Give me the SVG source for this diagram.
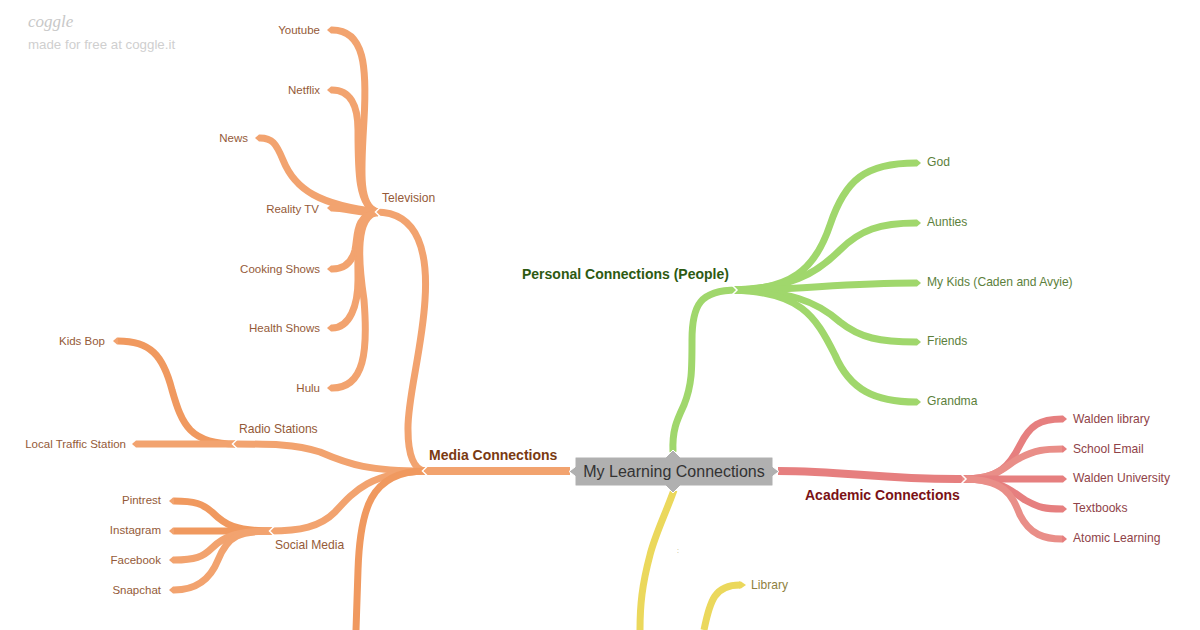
<svg xmlns="http://www.w3.org/2000/svg" width="1200" height="630" viewBox="0 0 1200 630">
<style>
text{font-family:"Liberation Sans",Arial,sans-serif}
.c{fill:none;stroke-width:7;stroke-linecap:butt;stroke-linejoin:round}
.m{stroke-width:8}
.o{stroke:#f2a36f}.o2{stroke:#f0995f}
.g{stroke:#a0d76c}.r{stroke:#e67f7f}.r2{stroke:#e98e88}.y{stroke:#ebd85c}
.l{font-size:11.5px}
.k{font-size:12.1px}
.b{font-size:14px;font-weight:bold}
.lo{fill:#945a38}.lg{fill:#5c7f3c}.lr{fill:#8f4348}.ly{fill:#8f7f40}
.w{fill:none;stroke:#fff;stroke-width:1.5}
.e{text-anchor:end}
</style>
<defs>
<marker id="to" markerUnits="userSpaceOnUse" markerWidth="12" markerHeight="10" refX="1" refY="5" orient="auto"><path d="M1 1.500L2 1.500L6 5L2 8.500L1 8.500Z" fill="#f2a36f"/></marker>
<marker id="tg" markerUnits="userSpaceOnUse" markerWidth="12" markerHeight="10" refX="1" refY="5" orient="auto"><path d="M1 1.500L2 1.500L6 5L2 8.500L1 8.500Z" fill="#a0d76c"/></marker>
<marker id="tr" markerUnits="userSpaceOnUse" markerWidth="12" markerHeight="10" refX="1" refY="5" orient="auto"><path d="M1 1.500L2 1.500L6 5L2 8.500L1 8.500Z" fill="#e67f7f"/></marker>
<marker id="ty" markerUnits="userSpaceOnUse" markerWidth="12" markerHeight="10" refX="1" refY="5" orient="auto"><path d="M1 1.500L2 1.500L6 5L2 8.500L1 8.500Z" fill="#ebd85c"/></marker>
</defs>
<g id="connectors">
<g marker-end="url(#to)">
<path class="c o" d="M378 212C358 208 361 170 364 120C367 68 365 30 332 30"/>
<path class="c o" d="M378 212C358 208 358 170 358 130C358 105 350 90 332 90"/>
<path class="c o" d="M378 212C320 205 295 190 283 160C276 143 272 138 260 138"/>
<path class="c o" d="M378 213C360 213 345 208 332 208"/>
<path class="c o" d="M378 212C355 215 358 235 355 250C352 262 345 269 332 269"/>
<path class="c o" d="M378 212C355 215 358 245 358 280C358 305 350 328 332 328"/>
<path class="c o" d="M378 212C355 215 358 260 364 300C368 350 365 388 332 388"/>
<path class="c o2" d="M272 531C235 531 225 525 212 512C203 504 195 501 174 501"/>
<path class="c o2" d="M272 531L174 531"/>
<path class="c o" d="M272 531C240 531 225 535 212 548C203 557 195 560 174 560"/>
<path class="c o" d="M272 531C240 531 228 535 218 560C210 580 195 590 174 590"/>
<path class="c o2" d="M236 444C190 444 182 425 172 390C163 355 150 341 118 341"/>
<path class="c o" d="M236 444L137 444"/>
</g>
<path class="c o" d="M376 212C420 212 428 255 425 300C422 350 407 400 408 430C408 455 414 470 425 471"/>
<path class="c m o" d="M570 471L423 471"/>
<path class="c o" d="M425 471C370 471 350 465 320 452C295 444 270 444 234 444"/>
<path class="c o" d="M425 471C370 473 355 490 335 512C320 527 300 531 270 531"/>
<path class="c o2" d="M425 471C370 471 360 510 358 570L356 630"/>
<path class="w" d="M427 466.500L422.500 471L427 475.500M237 439.500L232.500 444L237 448.500M274 526.500L269.500 531L274 535.500M380 207.500L375.500 212L380 216.500"/>
<path class="c g" d="M673 452C672 430 677 420 684 405C692 385 692 370 692 340C692 305 700 290 737 290"/>
<g marker-end="url(#tg)">
<path class="c g" d="M733 290C790 290 815 270 830 225C845 180 865 163 916 163"/>
<path class="c g" d="M733 290C790 288 815 275 840 250C860 230 880 223 916 223"/>
<path class="c g" d="M733 290C800 290 840 283 916 283"/>
<path class="c g" d="M733 290C790 292 815 300 840 322C860 338 880 342 916 342"/>
<path class="c g" d="M733 290C800 292 815 315 835 355C850 390 875 402 916 402"/>
</g>
<path class="w" d="M732.500 285.500L737 290L732.500 294.500"/>
<path class="c m r" d="M778 471C850 471 880 480 967 479"/>
<g marker-end="url(#tr)">
<path class="c r" d="M962 479C1000 479 1010 465 1020 445C1030 425 1040 419 1062 419"/>
<path class="c r2" d="M962 479C1000 479 1005 465 1020 458C1035 450 1045 449 1062 449"/>
<path class="c r" d="M962 479L1062 479"/>
<path class="c r" d="M962 479C1000 479 1010 490 1025 500C1040 508 1045 509 1062 509"/>
<path class="c r2" d="M962 479C1005 479 1012 495 1020 515C1030 535 1045 539 1062 539"/>
</g>
<path class="w" d="M961.500 474.500L966 479L961.500 483.500"/>
<path class="c y" d="M674 490C665 515 655 535 650 555C642 585 640 605 640 630"/>
<path class="c y" d="M740 585C715 585 710 600 704 630"/>
<path d="M739 581.500L741 581.500L746 585L741 588.500L739 588.500Z" fill="#ebd85c"/>
</g>
<g id="root">
<path d="M575 458Q575 457 576 457L666 457L673 450L680 457L772 457Q773 457 773 458L773 467L779 471.500L773 476L773 485Q773 486 772 486L680 486L673 493L666 486L576 486Q575 486 575 485L575 476L569 471.500L575 467Z" fill="#b0b0b0" stroke="#fff" stroke-width="1"/>
<text x="674" y="477" text-anchor="middle" font-size="16" fill="#333">My Learning Connections</text>
</g>
<g id="logo"><text x="28" y="27" font-size="17" font-style="italic" fill="#c8c8c8" style="font-family:'Liberation Serif',serif">coggle</text>
<text x="28" y="49" font-size="13.300" fill="#cfcfcf">made for free at coggle.it</text></g>
<g id="media"><text x="429" y="460" class="b" fill="#7a3a12">Media Connections</text></g>
<g id="television"><text x="382" y="202" class="k lo">Television</text></g>
<g id="youtube"><text x="320" y="34" class="l lo e">Youtube</text></g>
<g id="netflix"><text x="320" y="94" class="l lo e">Netflix</text></g>
<g id="news"><text x="248" y="142" class="l lo e">News</text></g>
<g id="reality"><text x="319" y="213" class="l lo e">Reality TV</text></g>
<g id="cooking"><text x="320" y="273" class="l lo e">Cooking Shows</text></g>
<g id="health"><text x="320" y="332" class="l lo e">Health Shows</text></g>
<g id="hulu"><text x="320" y="392" class="l lo e">Hulu</text></g>
<g id="kidsbop"><text x="105" y="345" class="l lo e">Kids Bop</text></g>
<g id="radio"><text x="239" y="433" class="k lo">Radio Stations</text></g>
<g id="traffic"><text x="126" y="448" class="l lo e">Local Traffic Station</text></g>
<g id="social"><text x="275" y="549" class="k lo">Social Media</text></g>
<g id="pintrest"><text x="161" y="504" class="l lo e">Pintrest</text></g>
<g id="instagram"><text x="161" y="534" class="l lo e">Instagram</text></g>
<g id="facebook"><text x="161" y="564" class="l lo e">Facebook</text></g>
<g id="snapchat"><text x="161" y="594" class="l lo e">Snapchat</text></g>
<g id="personal"><text x="522" y="279" class="b" fill="#2d5a12">Personal Connections (People)</text></g>
<g id="god"><text x="927" y="166" class="k lg">God</text></g>
<g id="aunties"><text x="927" y="226" class="k lg">Aunties</text></g>
<g id="kids"><text x="927" y="286" class="k lg">My Kids (Caden and Avyie)</text></g>
<g id="friends"><text x="927" y="345" class="k lg">Friends</text></g>
<g id="grandma"><text x="927" y="405" class="k lg">Grandma</text></g>
<g id="academic"><text x="805" y="500" class="b" fill="#7a1216">Academic Connections</text></g>
<g id="waldenlib"><text x="1073" y="423" class="k lr">Walden library</text></g>
<g id="email"><text x="1073" y="453" class="k lr">School Email</text></g>
<g id="univ"><text x="1073" y="482" class="k lr">Walden University</text></g>
<g id="textbooks"><text x="1073" y="512" class="k lr">Textbooks</text></g>
<g id="atomic"><text x="1073" y="542" class="k lr">Atomic Learning</text></g>
<g id="library"><text x="751" y="589" class="k ly">Library</text></g>
<g id="dots"><text x="677" y="553" font-size="7" fill="#b5ab70">:</text></g>
</svg>
